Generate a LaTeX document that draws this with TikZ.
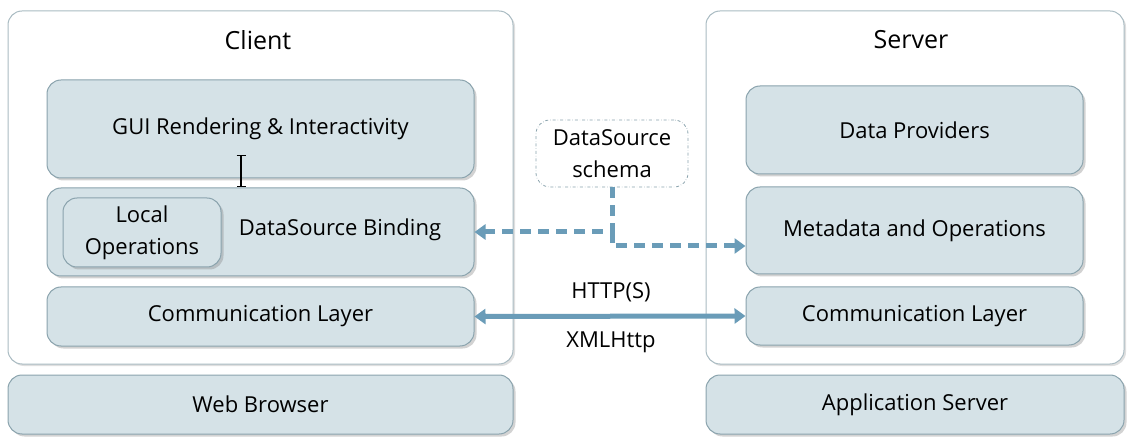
\documentclass[tikz,border=0pt]{standalone}
\usepackage{xcolor}
\usepackage{fontspec}
\setmainfont{Open Sans}
\usepackage{tikz}
\usetikzlibrary{arrows.meta}
\usetikzlibrary{shadows}
\definecolor{boxfill}{HTML}{D5E2E7}
\definecolor{boxline}{HTML}{8AA3AD}
\definecolor{frameline}{HTML}{A9BBC2}
\definecolor{flowblue}{HTML}{6A9CB8}

\begin{document}
\begin{tikzpicture}[x=1pt, y=-1pt,
		>={Triangle[length=11pt, width=15pt]},
		tier/.style={draw=frameline, line width=1pt, fill=white, rounded corners=14pt,
			minimum width=#1, minimum height=353pt, drop shadow={shadow xshift=2pt, shadow yshift=-2pt, opacity=.25}},
		layer/.style={draw=boxline, line width=1pt, fill=boxfill, rounded corners=14pt,
			drop shadow={shadow xshift=2.5pt, shadow yshift=-2.5pt, opacity=.35}},
		title/.style={font=\fontsize{25}{30}\selectfont},
		flow/.style={draw=flowblue, line width=5pt}
	]
			\fontsize{22}{28}\selectfont
			\useasboundingbox (0,0) rectangle (1132,446);

			\node[tier=505pt] (client) at (260.5,187.5) {};
			\node[tier=418pt] (server) at (915,187.5) {};
			\node[title] (clienttitle) at (258,40) {Client};
			\node[title] (servertitle) at (911,40) {Server};

			\node[layer, minimum width=427pt, minimum height=98pt] (gui) at (260.5,129) {GUI Rendering \& Interactivity};
			\node[layer, minimum width=427pt, minimum height=88pt] (dsb) at (260.5,232) {};
			\node (dsblabel) at (340,230) {DataSource Binding};
			\node[layer, minimum width=158pt, minimum height=69pt, align=center, inner sep=0pt] (local) at (142,232.5) {Local\\[4pt]Operations};
			\node[layer, minimum width=427pt, minimum height=59pt] (commclient) at (260.5,316.5) {Communication Layer};
			\node[layer, minimum width=505pt, minimum height=59pt] (browser) at (260.5,404.5) {Web Browser};

			\node[layer, minimum width=337pt, minimum height=88pt] (providers) at (914.5,130) {Data Providers};
			\node[layer, minimum width=337pt, minimum height=87pt] (metadata) at (914.5,230.5) {Metadata and Operations};
			\node[layer, minimum width=337pt, minimum height=58pt] (commserver) at (914.5,316) {Communication Layer};
			\node[layer, minimum width=418pt, minimum height=59pt] (appserver) at (915,404.5) {Application Server};

			\node[draw=boxline, dash dot, line width=.8pt, fill=white, rounded corners=14pt,
				minimum width=152pt, minimum height=67pt, align=center, inner sep=0pt] (schema) at (612,153.5) {DataSource\\[4pt]schema};

			\coordinate (split) at (612,232);
			\coordinate (bend) at (612,246);
			\draw[flow, dash pattern=on 11pt off 7pt, ->] (schema.south) |- (dsb.east);
			\draw[flow, dash pattern=on 11pt off 7pt, ->] (split) -- (bend) -- (bend -| metadata.west);

			\draw[flow, <->] (commclient.east) -- (commserver.west);
			\node (http) at (611,292) {HTTP(S)};
			\node (xmlhttp) at (611,342) {XMLHttp};

			\coordinate (cursor) at (241,155);
			\draw[line width=1.2pt, {Bar[width=9pt]}-{Bar[width=9pt]}] (cursor) -- (cursor |- dsb.north);
		\end{tikzpicture}
\end{document}
